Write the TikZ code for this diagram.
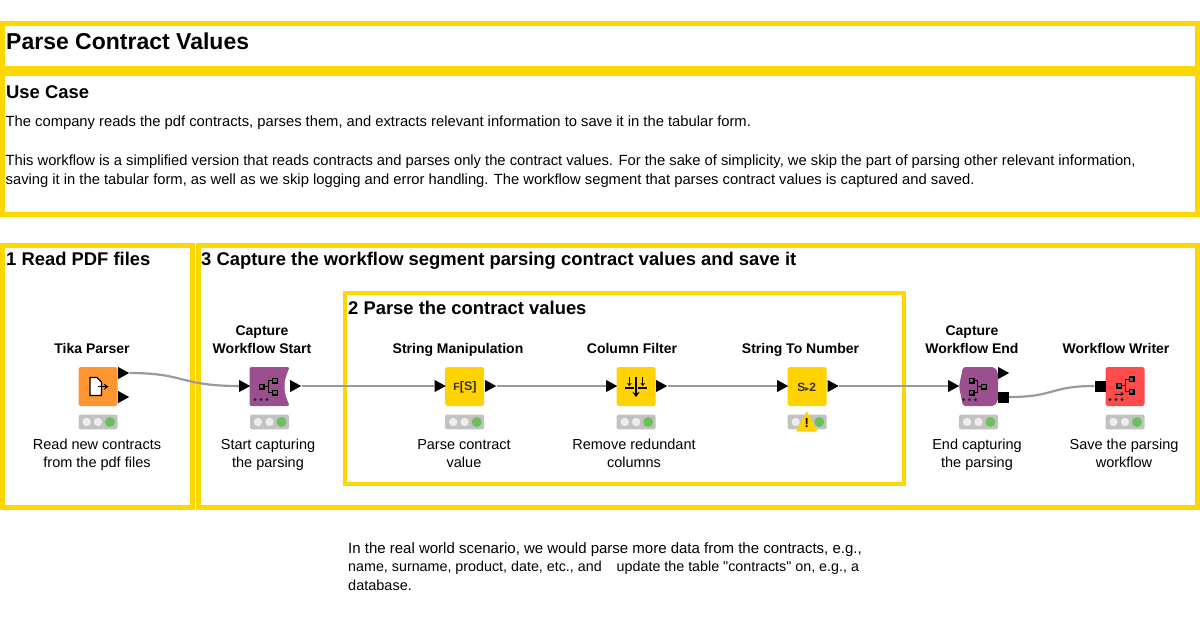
\documentclass[tikz,border=0pt]{standalone}
\usepackage{fontspec}
\setmainfont[Ligatures=TeXOff]{Liberation Sans}
\newfontfamily\symfont{DejaVu Sans}
\usetikzlibrary{positioning, shapes.geometric, arrows.meta}

\definecolor{frameyellow}{HTML}{FFD700}
\definecolor{manipyellow}{HTML}{FFD200}
\definecolor{srcorange}{HTML}{FF9632}
\definecolor{metapurple}{HTML}{9B4F8E}
\definecolor{sinkred}{HTML}{FF4B4B}
\definecolor{wiregray}{HTML}{9A9A9A}
\definecolor{lightgray}{HTML}{C2C2C2}
\definecolor{lampoff}{HTML}{EDEDED}
\definecolor{lampgreen}{HTML}{6CC05C}

\tikzset{
  x=1pt, y=-1pt,
  frame/.style={draw=frameyellow, line width=5pt},
  knode/.style={rectangle, rounded corners=2.5pt, minimum size=39pt, inner sep=0pt},
  inport/.style={isosceles triangle, isosceles triangle stretches, fill=black, inner sep=0pt,
    minimum width=12pt, minimum height=11pt, anchor=west},
  outport/.style={inport},
  sqport/.style={rectangle, fill=black, inner sep=0pt, minimum size=11pt},
  wire/.style={draw=wiregray, line width=2.2pt},
  nodetitle/.style={font=\fontsize{14}{18}\selectfont\bfseries, align=center, inner sep=0pt, anchor=base},
  nodetext/.style={font=\fontsize{14.5}{18}\selectfont, align=center, inner sep=0pt, anchor=base},
  heading/.style={font=\fontsize{18.4}{23}\selectfont\bfseries, anchor=base west, inner sep=0pt},
  bodytext/.style={font=\fontsize{14.75}{19}\selectfont, align=left, anchor=base west, inner sep=0pt},
  lights/.pic={
    \fill[lightgray, rounded corners=2pt] (-19.5,-7.3) rectangle (19.5,7.3);
    \fill[lampoff] (-11.5,0) circle (4.2);
    \fill[lampoff] (0,0) circle (4.2);
    \fill[lampgreen] (12,0) circle (5);
  },
  metabox/.style={draw=black, fill=black!60, line width=1.1pt},
  threedots/.pic={
    \fill[black!85] (-6,0) circle (1.6);
    \fill[black!85] (0,0) circle (1.6);
    \fill[black!85] (6,0) circle (1.6);
  },
}

\begin{document}
\begin{tikzpicture}

\useasboundingbox (0,0) rectangle (1200,630);
\fill[white] (0,0) rectangle (1200,630);

% Molduras
\draw[frame] (2.5,23.5) rectangle (1197,68.5);
\draw[frame] (2.5,73) rectangle (1197,214.5);
\draw[frame] (2.5,245.5) rectangle (192.5,507);
\draw[frame] (198.5,245.5) rectangle (1197,507);
\draw[frame, line width=4pt] (345,292.5) rectangle (904,484);

% Titulos e texto
\node[heading, font=\fontsize{23}{28}\selectfont\bfseries] (title) at (6,49) {Parse Contract Values};
\node[heading] (usecase) at (6,98.5) {Use Case};
\node[bodytext] (usetext) at (5.5,184) {The company reads the pdf contracts, parses them, and extracts relevant information to save it in the tabular form.\\[20pt]
This workflow is a simplified version that reads contracts and parses only the contract values. For the sake of simplicity, we skip the part of parsing other relevant information,\\
saving it in the tabular form, as well as we skip logging and error handling. The workflow segment that parses contract values is captured and saved.};
\node[heading] (sec1) at (6,265.5) {1 Read PDF files};
\node[heading] (sec3) at (201,265.5) {3 Capture the workflow segment parsing contract values and save it};
\node[heading] (sec2) at (348,314.5) {2 Parse the contract values};
\node[bodytext, font=\fontsize{15}{18.5}\selectfont] (note) at (348,590) {In the real world scenario, we would parse more data from the contracts, e.g.,\\
{\fontsize{14.3}{18.5}\selectfont name, surname, product, date, etc., and\hspace{11pt} update the table "contracts" on, e.g., a}\\
{\fontsize{14.5}{18.5}\selectfont database.}};

% Formas dos metanos
\fill[metapurple, rounded corners=2pt] (249.5,367) -- (289.5,367) .. controls (286.5,375) and (284.5,380) .. (284.5,386.5) .. controls (284.5,393) and (286.5,398) .. (289.5,406) -- (249.5,406) -- cycle;
\fill[metapurple, rounded corners=2pt] (963,367) -- (994,367) -- (998,372) -- (998,401) -- (994,406) -- (963,406) -- (959,386.5) -- cycle;

% Nos
\node[knode, fill=srcorange] (tika) at (98,386.5) {};
\node[knode] (capstart) at (269.5,386.5) {};
\node[knode, fill=manipyellow] (strmanip) at (464.7,386.5) {};
\node[knode, fill=manipyellow] (colfilter) at (636.2,386.5) {};
\node[knode, fill=manipyellow] (strnum) at (807.2,386.5) {};
\node[knode] (capend) at (978.5,386.5) {};
\node[knode, fill=sinkred] (writer) at (1125,386.5) {};

% Sinaleiras
\foreach \nodename in {tika, capstart, strmanip, colfilter, strnum, capend, writer}
  \path (\nodename.center) ++(0,35.5) pic {lights};

% Aviso em String To Number
\fill[manipyellow, rounded corners=1pt] (806.7,411) -- (817.5,431.5) -- (796,431.5) -- cycle;
\node[font=\fontsize{13}{13}\selectfont\bfseries, inner sep=0pt] (warnmark) at (806.7,423) {!};

% Portas
\node[outport] (tikaout) at (118,373) {};
\node[outport] (tikaoutb) at (118,397) {};
\node[inport] (capstartin) at (239,386) {};
\node[outport] (capstartout) at (290,386) {};
\node[inport] (strmanipin) at (434.5,386) {};
\node[outport] (strmanipout) at (485,386) {};
\node[inport] (colfilterin) at (606,386) {};
\node[outport] (colfilterout) at (656,386) {};
\node[inport] (strnumin) at (777,386) {};
\node[outport] (strnumout) at (827.5,386) {};
\node[inport] (capendin) at (948,386) {};
\node[outport] (capendout) at (998,373) {};
\node[sqport] (capendflow) at (1003.5,397) {};
\node[sqport] (writerin) at (1100,386) {};

% Conexoes
\draw[wire] (tikaout.east) .. controls (185,373) and (180,386) .. (capstartin.west);
\draw[wire] (capstartout.east) -- (strmanipin.west);
\draw[wire] (strmanipout.east) -- (colfilterin.west);
\draw[wire] (colfilterout.east) -- (strnumin.west);
\draw[wire] (strnumout.east) -- (capendin.west);
\draw[wire] (capendflow.east) .. controls (1055,397) and (1050,386) .. (writerin.west);

% Icone Tika
\draw[fill=white, line width=1.1pt] (90,377.5) -- (97,377.5) -- (101.5,382) -- (101.5,395.5) -- (90,395.5) -- cycle;
\draw[-{Stealth[length=4.5pt,width=6pt]}, line width=1.5pt] (97.5,386.7) -- (108.5,386.7);

% Icones dos metanos
\foreach \bx/\by in {261.7/386.7, 275/380.7, 275/392.7, 971.7/380.7, 971.7/392.7, 984/386.7, 1119.3/385.7, 1131.7/379.3, 1131.7/391.7}
  \draw[metabox] (\bx-2.3,\by-2.3) rectangle (\bx+2.3,\by+2.3);
\draw[line width=1pt] (264,386.7) -- (268.3,386.7) (268.3,380.7) -- (268.3,392.7) (268.3,380.7) -- (272.7,380.7) (268.3,392.7) -- (272.7,392.7);
\draw[line width=1pt] (974,380.7) -- (977.7,380.7) (974,392.7) -- (977.7,392.7) (977.7,380.7) -- (977.7,392.7) (977.7,386.7) -- (981.7,386.7);
\draw[line width=1pt] (1121.6,385.7) -- (1125.5,385.7) (1125.5,379.3) -- (1125.5,391.7) (1125.5,379.3) -- (1129.4,379.3) (1125.5,391.7) -- (1129.4,391.7);
\draw[-{Stealth[length=3pt,width=4pt]}, line width=1pt] (1115,394) -- (1123.7,394);
\path (261,399.5) pic {threedots};
\path (969.5,399.7) pic {threedots};
\path (1116,399.5) pic {threedots};

% Icones de texto
\node[font=\fontsize{12.5}{12}\selectfont\bfseries, inner sep=0pt, text=black!80] (manipicon) at (465,387.3) {{\fontsize{10.5}{10}\selectfont F}[S]};
\node[font=\fontsize{12}{12}\selectfont\bfseries, inner sep=0pt, text=black!80] (numicon) at (806.7,387.3) {S{\symfont\fontsize{8}{8}\selectfont ▸}2};

% Icone Column Filter
\draw[-{Stealth[length=5pt,width=7pt]}, line width=1.6pt] (636,376.7) -- (636,397);
\foreach \bx in {629.3, 642.7} {
  \draw[-{Stealth[length=3pt,width=4.5pt]}, line width=1.1pt] (\bx,377) -- (\bx,386);
  \draw[line width=1.1pt] (\bx-4.5,388) -- (\bx+4.5,388);
}

% Rotulos dos nos
\node[nodetitle] (tikatitle) at (92,353.3) {Tika Parser};
\node[nodetitle] (capstarttitle) at (262,353.3) {Capture\\Workflow Start};
\node[nodetitle] (strmaniptitle) at (458,353.3) {String Manipulation};
\node[nodetitle] (colfiltertitle) at (632,353.3) {Column Filter};
\node[nodetitle] (strnumtitle) at (800.5,353.3) {String To Number};
\node[nodetitle] (capendtitle) at (972,353.3) {Capture\\Workflow End};
\node[nodetitle] (writertitle) at (1116,353.3) {Workflow Writer};

\node[nodetext] (tikatext) at (97,467) {Read new contracts\\from the pdf files};
\node[nodetext] (capstarttext) at (268,467) {Start capturing\\the parsing};
\node[nodetext] (strmaniptext) at (464,467) {Parse contract\\value};
\node[nodetext] (colfiltertext) at (634,467) {Remove redundant\\columns};
\node[nodetext] (capendtext) at (977,467) {End capturing\\the parsing};
\node[nodetext] (writertext) at (1124,467) {Save the parsing\\workflow};

\end{tikzpicture}
\end{document}
